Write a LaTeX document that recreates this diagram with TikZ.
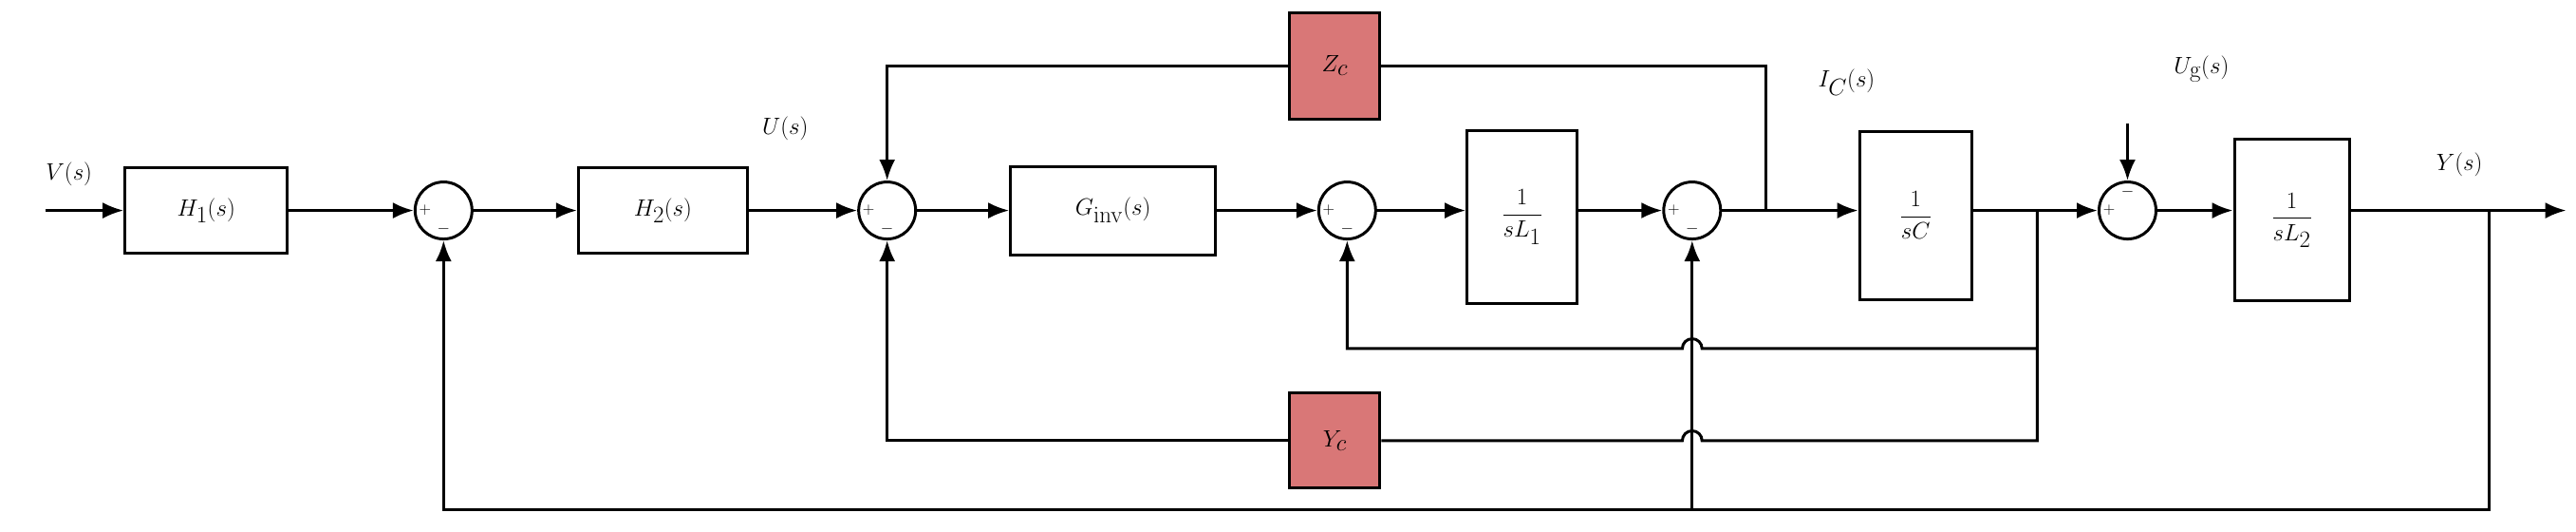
\documentclass[tikz,border=0pt]{standalone}
\usepackage{amsmath}
\usetikzlibrary{arrows.meta}
\begin{document}
\begin{tikzpicture}[x=1.731pt,y=-1.731pt,
  every node/.style={font=\fontsize{40}{48}\selectfont},
  blk/.style={draw,line width=3pt,inner sep=0pt},
  red/.style={blk,fill=red!45!white!85!black},
  sum/.style={draw,line width=3pt,circle,minimum size=60pt,inner sep=0pt},
  ln/.style={line width=3pt},
  ar/.style={ln,-{Latex[length=22pt,width=17pt]}},
  sg/.style={font=\fontsize{18}{20}\selectfont,inner sep=0pt}]
\useasboundingbox (0,0) rectangle (1568,323.5);
% blocks
\node[blk,minimum width=171pt,minimum height=90pt] (H1) at (125.5,128) {$H_1(s)$};
\node[blk,minimum width=178pt,minimum height=90pt] (H2) at (403.5,128) {$H_2(s)$};
\node[blk,minimum width=216pt,minimum height=93pt] (G) at (677.5,128) {$G_{\mathrm{inv}}(s)$};
\node[blk,minimum width=116pt,minimum height=182pt] (L1) at (926.5,132) {$\dfrac{1}{sL_1}$};
\node[blk,minimum width=118pt,minimum height=177pt] (C) at (1166,131) {$\dfrac{1}{sC}$};
\node[blk,minimum width=121pt,minimum height=170pt] (L2) at (1395,134) {$\dfrac{1}{sL_2}$};
\node[red,minimum width=95pt,minimum height=112pt] (Z) at (812.5,40) {$Z_c$};
\node[red,minimum width=95pt,minimum height=100pt] (Y) at (812.5,268) {$Y_c$};
% sums
\node[sum] (s1) at (270,128) {};
\node[sum] (s2) at (540,128) {};
\node[sum] (s3) at (820,128) {};
\node[sum] (s4) at (1030,128) {};
\node[sum] (s5) at (1295,128) {};
\foreach \s in {s1,s2,s3,s4}{
  \node[sg] at ([xshift=12pt]\s.west) {$+$};
  \node[sg] at ([yshift=12pt]\s.south) {$-$};}
\node[sg] at ([xshift=12pt]s5.west) {$+$};
\node[sg] at ([yshift=-12pt]s5.north) {$-$};
% coordinates
\coordinate (in) at (28,128);
\coordinate (jI) at (1075,128);
\coordinate (jC) at (1240,128);
\coordinate (jY) at (1515,128);
\coordinate (out) at (1562,128);
\coordinate (ug) at (1295,75);
% labels
\node at (42,106) {$V(s)$};
\node at (478,78) {$U(s)$};
\node at (1124,50) {$I_C(s)$};
\node at (1340,42) {$U_{\mathrm{g}}(s)$};
\node at (1497,100) {$Y(s)$};
% forward path
\draw[ar] (in) -- (H1);
\draw[ar] (H1) -- (s1);
\draw[ar] (s1) -- (H2);
\draw[ar] (H2) -- (s2);
\draw[ar] (s2) -- (G);
\draw[ar] (G) -- (s3);
\draw[ar] (s3) -- (L1.west |- s3);
\draw[ar] (L1.east |- s4) -- (s4);
\draw[ln] (s4) -- (jI);
\draw[ar] (jI) -- (C.west |- jI);
\draw[ln] (C.east |- jC) -- (jC);
\draw[ar] (jC) -- (s5);
\draw[ar] (s5) -- (L2.west |- s5);
\draw[ln] (L2.east |- jY) -- (jY);
\draw[ar] (jY) -- (out);
% top path
\draw[ln] (jI) |- (Z.east);
\draw[ar] (Z.west) -| (s2.north);
\draw[ar] (ug) -- (s5.north);
% inner feedback
\draw[ar] (jC) -- (1240,212) -- (1036,212) arc (0:-180:6) -| (s3.south);
% Yc feedback
\draw[ln] (1240,212) -- (1240,268) -- (1036,268) arc (0:-180:6) -- (Y.east);
\draw[ar] (Y.west) -| (s2.south);
% outer feedback
\draw[ar] (jY) -- (1515,310) -| (s1.south);
\draw[ar] (1030,310) -- (s4.south);
\end{tikzpicture}
\end{document}
